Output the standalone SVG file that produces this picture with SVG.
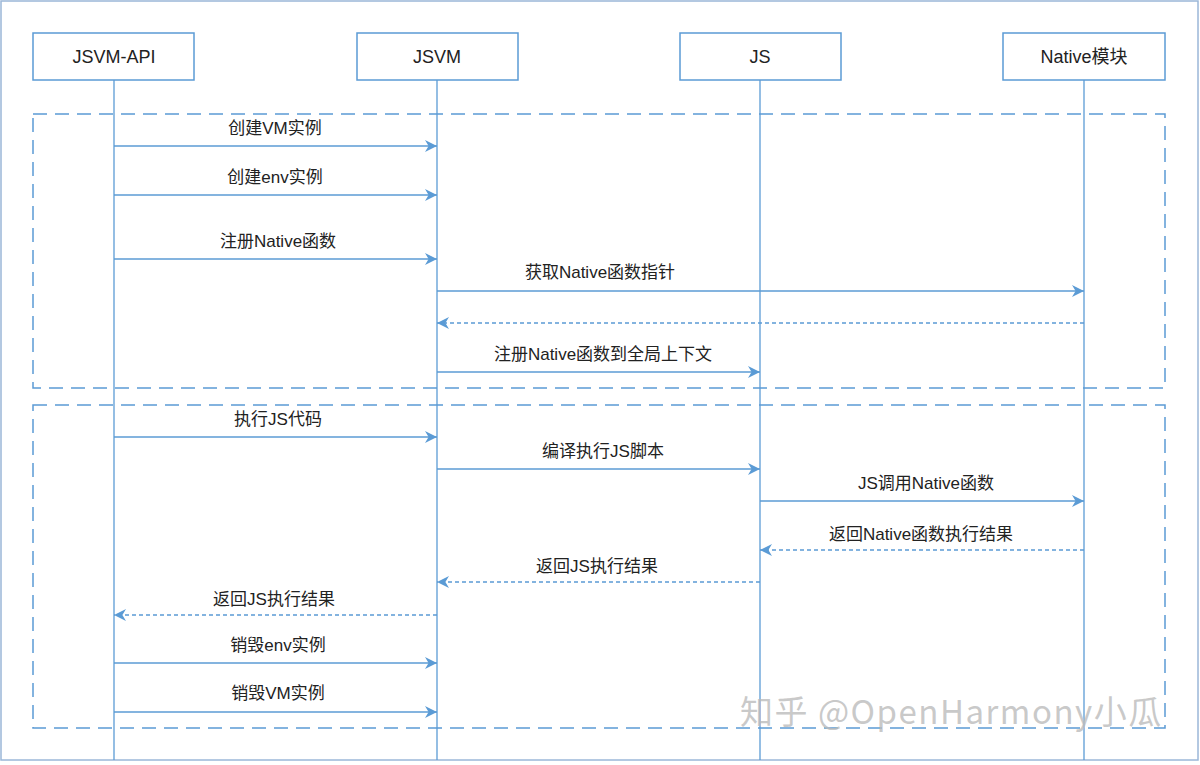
<svg xmlns="http://www.w3.org/2000/svg" width="1200" height="765" viewBox="0 0 1200 765">
<style>
.box{fill:#fff;stroke:#5b9bd5;stroke-width:1.5}
.lt{font-family:"Liberation Sans","Noto Sans CJK SC",sans-serif;font-size:18px;fill:#222;text-anchor:middle}
.ml{font-family:"Liberation Sans","Noto Sans CJK SC",sans-serif;font-size:17px;fill:#222;text-anchor:middle}
.life{stroke:#5b9bd5;stroke-width:1.3}
.frame{fill:none;stroke:#5b9bd5;stroke-width:1.5;stroke-dasharray:14 8}
.m{stroke:#5b9bd5;stroke-width:1.5;marker-end:url(#ah)}
.r{stroke:#5b9bd5;stroke-width:1.5;stroke-dasharray:4 3;marker-end:url(#ah)}
</style>
<defs><marker id="ah" viewBox="0 0 10 10" refX="10" refY="5" markerWidth="12" markerHeight="12" markerUnits="userSpaceOnUse" orient="auto"><path d="M0,0L10,5L0,10L3,5z" fill="#5b9bd5"/></marker></defs>
<rect x="0" y="0" width="1200" height="765" fill="#fff"/>
<rect x="1" y="1" width="1197" height="759" fill="none" stroke="#9bb7d8" stroke-width="1.5"/>
<g id="frames"><rect class="frame" x="33" y="114" width="1132" height="274"/><rect class="frame" x="33" y="405" width="1132" height="323"/></g>
<g id="lifelines"><line class="life" x1="114" y1="80" x2="114" y2="760"/><line class="life" x1="437" y1="80" x2="437" y2="760"/><line class="life" x1="760" y1="80" x2="760" y2="760"/><line class="life" x1="1084" y1="80" x2="1084" y2="760"/></g>
<g id="n1"><rect class="box" x="33" y="33" width="161" height="47"/><text class="lt" x="114" y="63">JSVM-API</text></g>
<g id="n2"><rect class="box" x="357" y="33" width="161" height="47"/><text class="lt" x="437" y="63">JSVM</text></g>
<g id="n3"><rect class="box" x="680" y="33" width="161" height="47"/><text class="lt" x="760" y="63">JS</text></g>
<g id="n4"><rect class="box" x="1003" y="33" width="162" height="47"/><text class="lt" x="1084" y="63">Native模块</text></g>
<g id="connectors">
<line class="m" x1="114" y1="146" x2="437" y2="146"/><text class="ml" x="275" y="134">创建VM实例</text>
<line class="m" x1="114" y1="195" x2="437" y2="195"/><text class="ml" x="275" y="183">创建env实例</text>
<line class="m" x1="114" y1="259" x2="437" y2="259"/><text class="ml" x="278" y="247">注册Native函数</text>
<line class="m" x1="437" y1="291" x2="1084" y2="291"/><text class="ml" x="600" y="278">获取Native函数指针</text>
<line class="r" x1="1084" y1="323" x2="437" y2="323"/>
<line class="m" x1="437" y1="372" x2="760" y2="372"/><text class="ml" x="603" y="360">注册Native函数到全局上下文</text>
<line class="m" x1="114" y1="437" x2="437" y2="437"/><text class="ml" x="278" y="425">执行JS代码</text>
<line class="m" x1="437" y1="469" x2="760" y2="469"/><text class="ml" x="603" y="457">编译执行JS脚本</text>
<line class="m" x1="760" y1="501" x2="1084" y2="501"/><text class="ml" x="926" y="489">JS调用Native函数</text>
<line class="r" x1="1084" y1="550" x2="760" y2="550"/><text class="ml" x="921" y="540">返回Native函数执行结果</text>
<line class="r" x1="760" y1="582" x2="437" y2="582"/><text class="ml" x="597" y="572">返回JS执行结果</text>
<line class="r" x1="437" y1="615" x2="114" y2="615"/><text class="ml" x="274" y="605">返回JS执行结果</text>
<line class="m" x1="114" y1="663" x2="437" y2="663"/><text class="ml" x="278" y="651">销毁env实例</text>
<line class="m" x1="114" y1="712" x2="437" y2="712"/><text class="ml" x="278" y="699">销毁VM实例</text>
</g>
<text x="740" y="724" font-family="'Noto Sans CJK SC',sans-serif" font-size="33" letter-spacing="1.5" fill="#bbb" fill-opacity="0.8">知乎 @OpenHarmony小瓜</text>
</svg>
